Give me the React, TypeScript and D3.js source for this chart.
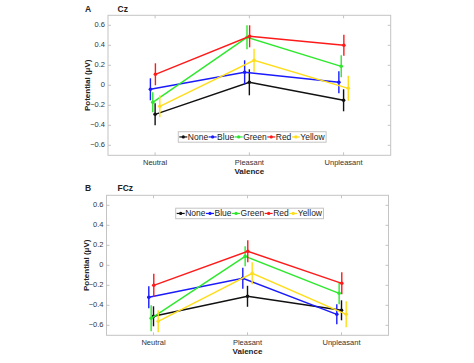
import React from "react";
import * as d3 from "d3";

const categories = ["Neutral", "Pleasant", "Unpleasant"];
const seriesNames = ["None", "Blue", "Green", "Red", "Yellow"];
const seriesColors = ["#111111", "#1a1aff", "#2ee82e", "#ff1a1a", "#ffdd1a"];
const seriesOffsets = [0, -0.05, -0.025, 0.003, 0.05];
const yTicks = [-0.6, -0.4, -0.2, 0, 0.2, 0.4, 0.6];

// Panel A (Cz)
const czMeans = [
  [-0.29, 0.03, -0.15],
  [-0.04, 0.13, 0.03],
  [-0.17, 0.48, 0.19],
  [0.11, 0.49, 0.4],
  [-0.21, 0.25, -0.03],
];
const czErrors = [
  [0.11, 0.13, 0.11],
  [0.11, 0.12, 0.11],
  [0.1, 0.12, 0.11],
  [0.11, 0.11, 0.105],
  [0.11, 0.115, 0.125],
];

// Panel B (FCz)
const fczMeans = [
  [-0.51, -0.31, -0.45],
  [-0.32, -0.13, -0.49],
  [-0.53, 0.09, -0.28],
  [-0.2, 0.14, -0.18],
  [-0.56, -0.08, -0.49],
];
const fczErrors = [
  [0.1, 0.105, 0.1],
  [0.11, 0.105, 0.1],
  [0.13, 0.1, 0.11],
  [0.115, 0.11, 0.11],
  [0.11, 0.11, 0.13],
];

const FONT = "'Liberation Sans', Arial, sans-serif";

function measure(text: string, size: number): number {
  const c = document.createElement("canvas").getContext("2d");
  if (!c) return text.length * size * 0.55;
  c.font = `${size}px 'Liberation Sans'`;
  return c.measureText(text).width;
}

type PanelProps = {
  letter: string;
  title: string;
  means: number[][];
  errors: number[][];
  x0: number;
  x1: number;
  yTop: number;
  yBot: number;
  legendX: number;
  legendY: number;
  letterY: number;
};

function Panel(p: PanelProps) {
  const x = d3.scaleLinear().domain([0.5, 3.5]).range([p.x0, p.x1]);
  const y = d3.scaleLinear().domain([-0.7, 0.7]).range([p.yBot, p.yTop]);
  const line = d3
    .line<[number, number]>()
    .x((d) => x(d[0]))
    .y((d) => y(d[1]));
  const boxColor = "#c4c4c4";
  const tickLen = 3;

  // legend layout
  const fs = 8.5;
  let cur = 1;
  const items = seriesNames.map((n, i) => {
    const lx = cur;
    const tx = cur + 8.5;
    const w = measure(n, fs);
    cur = tx + w + 0.5;
    return { n, i, lx, tx };
  });
  const legendW = cur + 1;
  const legendH = 10.5;

  return (
    <g>
      <text x={85} y={p.letterY} fontFamily={FONT} fontSize={8.5} fontWeight="bold" fill="#222" dominantBaseline="middle">
        {p.letter}
      </text>
      <text x={117.5} y={p.letterY} fontFamily={FONT} fontSize={8.5} fontWeight="bold" fill="#222" dominantBaseline="middle">
        {p.title}
      </text>
      <rect x={p.x0} y={p.yTop} width={p.x1 - p.x0} height={p.yBot - p.yTop} fill="white" stroke={boxColor} strokeWidth={1} />
      {yTicks.map((t) => (
        <g key={t}>
          <line x1={p.x0} x2={p.x0 + tickLen} y1={y(t)} y2={y(t)} stroke={boxColor} />
          <line x1={p.x1} x2={p.x1 - tickLen} y1={y(t)} y2={y(t)} stroke={boxColor} />
          <text x={p.x0 - 3} y={y(t)} textAnchor="end" dominantBaseline="middle" fontFamily={FONT} fontSize={7.5} fill="#333">
            {t === 0 ? "0" : d3.format(".1f")(t)}
          </text>
        </g>
      ))}
      {categories.map((c, i) => (
        <g key={c}>
          <line x1={x(i + 1)} x2={x(i + 1)} y1={p.yBot} y2={p.yBot - tickLen} stroke={boxColor} />
          <line x1={x(i + 1)} x2={x(i + 1)} y1={p.yTop} y2={p.yTop + tickLen} stroke={boxColor} />
          <text x={x(i + 1)} y={p.yBot + 7.5} textAnchor="middle" dominantBaseline="middle" fontFamily={FONT} fontSize={7.5} fill="#333">
            {c}
          </text>
        </g>
      ))}
      <text
        x={(p.x0 + p.x1) / 2}
        y={p.yBot + 16.5}
        textAnchor="middle"
        dominantBaseline="middle"
        fontFamily={FONT}
        fontSize={8}
        fontWeight="bold"
        fill="#222"
      >
        Valence
      </text>
      <text
        transform={`translate(${p.x0 - 20},${(p.yTop + p.yBot) / 2}) rotate(-90)`}
        textAnchor="middle"
        dominantBaseline="middle"
        fontFamily={FONT}
        fontSize={8}
        fontWeight="bold"
        fill="#222"
      >
        Potential (μV)
      </text>
      {seriesNames.map((n, s) => {
        const pts: [number, number][] = p.means[s].map((v, i) => [i + 1 + seriesOffsets[s], v]);
        return (
          <g key={n}>
            <path d={line(pts) || ""} fill="none" stroke={seriesColors[s]} strokeWidth={1.4} />
            {pts.map((d, i) => (
              <g key={i}>
                <line
                  x1={x(d[0])}
                  x2={x(d[0])}
                  y1={y(d[1] - p.errors[s][i])}
                  y2={y(d[1] + p.errors[s][i])}
                  stroke={seriesColors[s]}
                  strokeWidth={1.4}
                />
                <circle cx={x(d[0])} cy={y(d[1])} r={1.8} fill={seriesColors[s]} />
              </g>
            ))}
          </g>
        );
      })}
      <g transform={`translate(${p.legendX},${p.legendY})`}>
        <rect x={0} y={0} width={legendW} height={legendH} fill="white" stroke={boxColor} />
        {items.map((it) => (
          <g key={it.n}>
            <line x1={it.lx} x2={it.lx + 8} y1={legendH / 2} y2={legendH / 2} stroke={seriesColors[it.i]} strokeWidth={1.2} />
            <circle cx={it.lx + 4} cy={legendH / 2} r={1.6} fill={seriesColors[it.i]} />
            <text x={it.tx} y={legendH / 2 + 0.3} dominantBaseline="middle" fontFamily={FONT} fontSize={fs} fill="#222">
              {it.n}
            </text>
          </g>
        ))}
      </g>
    </g>
  );
}

export default function App() {
  return (
    <svg width={474} height={363} style={{ position: "absolute", left: 0, top: 0, background: "white" }}>
      <rect x={0} y={0} width={474} height={363} fill="white" />
      <Panel
        letter="A"
        title="Cz"
        means={czMeans}
        errors={czErrors}
        x0={108}
        x1={390.7}
        yTop={15.3}
        yBot={155.3}
        legendX={178.3}
        legendY={131.7}
        letterY={10}
      />
      <Panel
        letter="B"
        title="FCz"
        means={fczMeans}
        errors={fczErrors}
        x0={106.5}
        x1={388.5}
        yTop={195.3}
        yBot={335.3}
        legendX={175.7}
        legendY={208.2}
        letterY={189}
      />
    </svg>
  );
}
